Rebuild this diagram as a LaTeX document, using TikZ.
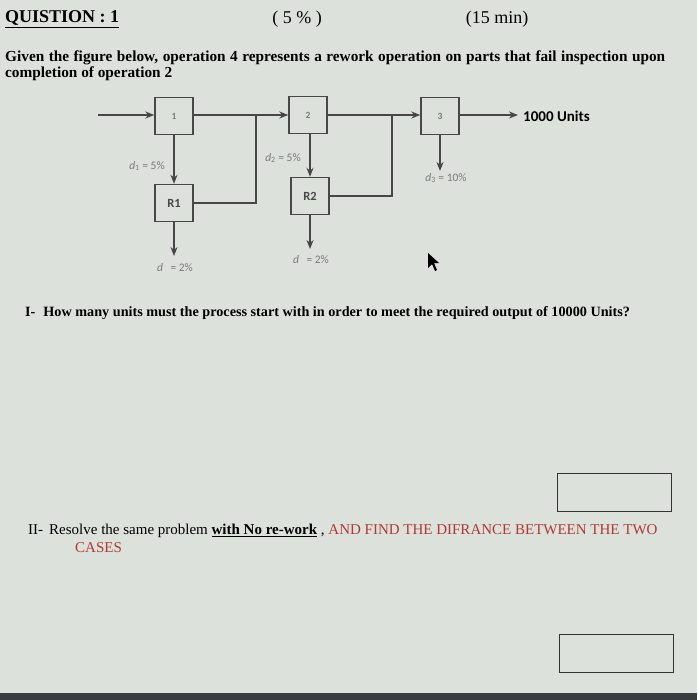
\documentclass[tikz,border=0pt]{standalone}
\usepackage{fontspec}
\setmainfont{Liberation Serif}
\setsansfont{Carlito}
\usetikzlibrary{arrows.meta}
\definecolor{bg}{HTML}{DDE1DC}
\definecolor{ln}{HTML}{474747}
\definecolor{lbl}{HTML}{7A7A7A}
\definecolor{redtxt}{HTML}{B03A32}
\definecolor{band}{HTML}{3A3D40}
\begin{document}
\begin{tikzpicture}[x=1pt,y=-1pt,
  op/.style={draw=ln,line width=1.4pt,minimum width=38pt,minimum height=37pt,inner sep=0pt,font=\sffamily\bfseries\fontsize{9.5}{10}\selectfont,text=lbl},
  rw/.style={op,font=\sffamily\bfseries\fontsize{12.5}{13}\selectfont,text=black!72},
  flow/.style={draw=ln,line width=1.5pt,-{Stealth[length=9pt,width=7pt]}},
  wire/.style={draw=ln,line width=1.5pt},
  dlbl/.style={font=\sffamily\fontsize{11.5}{12}\selectfont,text=lbl,inner sep=0pt},
  ansbox/.style={draw=black!80,line width=1pt,minimum width=114pt,minimum height=38pt,inner sep=0pt},
  txt/.style={anchor=west,inner sep=0pt}
]
\useasboundingbox (0,0) rectangle (697,700);
\fill[bg] (0,0) rectangle (697,693);
\fill[band] (0,693) rectangle (697,700);

% header
\node[txt,font=\bfseries\fontsize{18}{19}\selectfont] (title) at (5,19) {\underline{QUISTION : 1}};
\node[inner sep=0pt,font=\fontsize{18}{19}\selectfont] (pct) at (297,19) {( 5 \% )};
\node[inner sep=0pt,font=\fontsize{18}{19}\selectfont] (time) at (497,19) {(15 min)};

\node[anchor=north west,inner sep=0pt,font=\bfseries\fontsize{15.3}{15.5}\selectfont,text width=660pt,align=justify] (given) at (5,51)
{Given the figure below, operation 4 represents a rework operation on parts that fail inspection upon completion of operation 2};

% diagram
\node[op] (o1) at (174,116) {1};
\node[op] (o2) at (308,115) {2};
\node[op] (o3) at (440,116) {3};
\node[rw] (r1) at (174,203) {R1};
\node[rw] (r2) at (310,196) {R2};
\coordinate (in) at (98,115);
\coordinate (j1) at (256,115);
\coordinate (j2) at (392,115);
\coordinate (out) at (518,115);
\coordinate (r1d) at (174,256);
\coordinate (r2d) at (310,249);
\coordinate (o3d) at (440,171);

\draw[flow] (in) -- (o1.west |- in);
\draw[wire] (o1.east |- j1) -- (j1);
\draw[flow] (j1) -- (o2.west |- j1);
\draw[wire] (o2.east |- j2) -- (j2);
\draw[flow] (j2) -- (o3.west |- j2);
\draw[flow] (o3.east |- out) -- (out);
\draw[wire] (r1.east) -| (j1);
\draw[wire] (r2.east) -| (j2);
\draw[flow] (o1.south) -- (r1.north);
\draw[flow] (o2.south -| r2) -- (r2.north);
\draw[flow] (r1.south) -- (r1d);
\draw[flow] (r2.south) -- (r2d);
\draw[flow] (o3.south) -- (o3d);

\node[anchor=west,inner sep=0pt,font=\sffamily\bfseries\fontsize{15}{16}\selectfont] (units) at (523,116) {1000 Units};
\node[dlbl] (d1) at (147,166) {\textit{d}\textsubscript{1} = 5\%};
\node[dlbl] (d2) at (283,158) {\textit{d}\textsubscript{2} = 5\%};
\node[dlbl] (d3) at (446,178) {\textit{d}\textsubscript{3} = 10\%};
\node[dlbl] (d4) at (175,268) {\textit{d}\hspace{5pt} = 2\%};
\node[dlbl] (d5) at (311,260) {\textit{d}\hspace{5pt} = 2\%};

% cursor
\fill[black] (428,253) -- (428,268) -- (432,264) -- (435,271) -- (437,270) -- (434,263) -- (439,263) -- cycle;

% question I
\node[txt,font=\bfseries\fontsize{14.2}{16}\selectfont] (q1) at (25,313)
{I-\hspace{8pt}How many units must the process start with in order to meet the required output of 10000 Units?};

\node[ansbox] (a1) at (614,492) {};

% question II
\node[txt,font=\fontsize{15}{16}\selectfont] (q2) at (28,531)
{II-\hspace{6pt}Resolve the same problem \textbf{\underline{with No re-work}}~,~\textcolor{redtxt}{AND FIND THE DIFRANCE BETWEEN THE TWO}};
\node[txt,font=\fontsize{15}{16}\selectfont,text=redtxt] (q2b) at (75,548) {CASES};

\node[ansbox] (a2) at (616,653) {};
\end{tikzpicture}
\end{document}
